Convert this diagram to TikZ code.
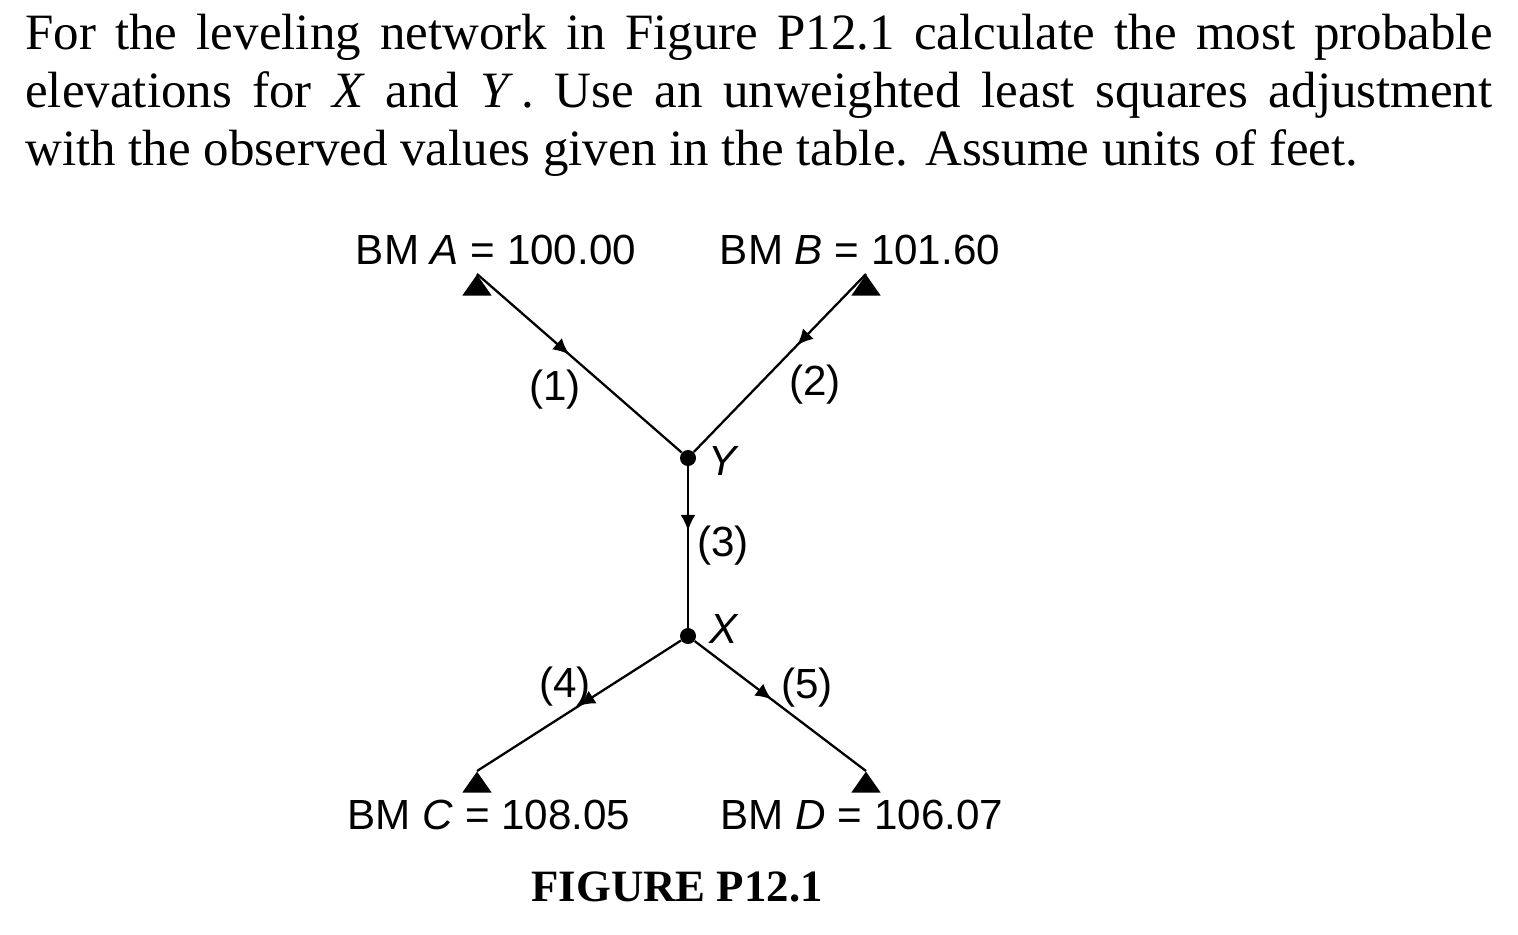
\documentclass[tikz,border=0pt]{standalone}
\usepackage{fontspec}
\setmainfont{Liberation Serif}
\setsansfont{Liberation Sans}
\usetikzlibrary{decorations.markings,arrows.meta,shapes.geometric}
\begin{document}
\begin{tikzpicture}[x=0.02cm,y=-0.02cm,
  bm/.style={fill,isosceles triangle,shape border rotate=90,isosceles triangle apex angle=70,inner sep=0pt,minimum height=0.42cm},
  pt/.style={circle,fill,inner sep=0pt,minimum size=0.32cm},
  lbl/.style={font=\sffamily\fontsize{24}{28}\selectfont,inner sep=0pt},
  edge/.style={line width=1.3pt},
  mid/.style={postaction={decorate},decoration={markings,mark=at position #1 with {\arrow{Latex[length=0.32cm,width=0.3cm]}}}}]
\useasboundingbox (0,0) rectangle (1518,934);
\node[anchor=north west,text width=29.35cm,align=justify,inner sep=0pt,font=\fontsize{29}{33}\selectfont] (title) at (25,14)
 {For the leveling network in Figure P12.1 calculate the most probable\linebreak
 elevations for \textit{X} and \textit{Y}\,. Use an unweighted least squares adjustment\linebreak
 with the observed values given in the table. Assume units of feet.};
\coordinate (A) at (477,274);
\coordinate (B) at (866,274);
\coordinate (C) at (477,771);
\coordinate (D) at (866,771);
\node[bm,anchor=apex] (tA) at (A) {};
\node[bm,anchor=apex] (tB) at (B) {};
\node[bm,anchor=apex] (tC) at (C) {};
\node[bm,anchor=apex] (tD) at (D) {};
\node[pt] (Y) at (688,458) {};
\node[pt] (X) at (688,636) {};
\draw[edge,mid=0.45] (A) -- (Y);
\draw[edge,mid=0.4] (B) -- (Y);
\draw[edge,mid=0.4] (Y) -- (X);
\draw[edge,mid=0.5] (X) -- (C);
\draw[edge,mid=0.45] (X) -- (D);
\node[lbl] (lA) at (496,250) {BM \textit{A} = 100.00};
\node[lbl] (lB) at (860,250) {BM \textit{B} = 101.60};
\node[lbl] (lC) at (489,815) {BM \textit{C} = 108.05};
\node[lbl] (lD) at (862,815) {BM \textit{D} = 106.07};
\node[lbl] (n1) at (555,390) {(1)};
\node[lbl] (n2) at (815,385) {(2)};
\node[lbl] (n3) at (723,546) {(3)};
\node[lbl] (n4) at (565,687) {(4)};
\node[lbl] (n5) at (807,688) {(5)};
\node[lbl] (lY) at (724,461) {\textit{Y}};
\node[lbl] (lX) at (724,629) {\textit{X}};
\node[font=\bfseries\fontsize{25.5}{30}\selectfont,inner sep=0pt] (fig) at (677,887) {FIGURE P12.1};
\end{tikzpicture}
\end{document}
